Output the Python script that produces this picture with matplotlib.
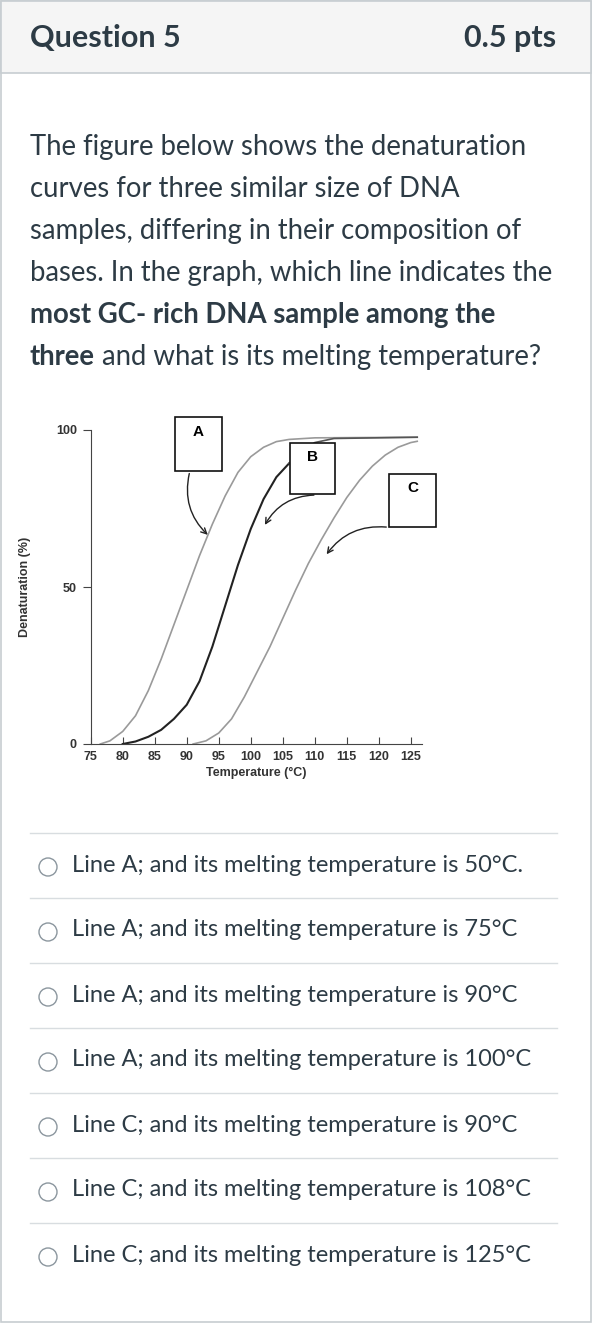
import matplotlib
matplotlib.use('Agg')
import matplotlib.pyplot as plt
from matplotlib.patches import Rectangle, Circle

# curves (temperature, % denaturation)
temp_a = [76.5, 78, 80, 82, 84, 86, 88, 90, 92, 94, 96, 98, 100, 102, 104, 106, 110, 126]
den_a = [0, 1, 4, 9, 17, 27, 38, 49, 60, 70, 79, 86.5, 91.5, 94.5, 96.3, 97, 97.5, 97.7]
temp_b = [80, 82, 84, 86, 88, 90, 92, 94, 96, 98, 100, 102, 104, 106]
den_b = [0, 0.8, 2.3, 4.5, 8, 12.5, 20, 31, 44, 57, 68.5, 78, 85, 89.4]
temp_b_top = [106, 108, 110, 113, 126]
den_b_top = [89.4, 93.5, 96, 97.3, 97.7]
temp_c = [91, 93, 95, 97, 99, 101, 103, 105, 107, 109, 111, 113, 115, 117, 119, 121, 123, 125, 126]
den_c = [0, 1, 3.5, 8, 15, 23, 31, 40, 49, 57.5, 65, 72, 78.5, 84, 88.5, 92, 94.5, 96, 96.4]
x_ticks = [75, 80, 85, 90, 95, 100, 105, 110, 115, 120, 125]
y_ticks = [0, 50, 100]

options = [
    'Line A; and its melting temperature is 50°C.',
    'Line A; and its melting temperature is 75°C',
    'Line A; and its melting temperature is 90°C',
    'Line A; and its melting temperature is 100°C',
    'Line C; and its melting temperature is 90°C',
    'Line C; and its melting temperature is 108°C',
    'Line C; and its melting temperature is 125°C',
]

W, H = 610, 1324
fig = plt.figure(figsize=(W / 100, H / 100), dpi=100)
page = fig.add_axes([0, 0, 1, 1])
page.set_xlim(0, W)
page.set_ylim(H, 0)
page.axis('off')

txt = '#2d3b45'
font = 'Lato'

# card border and header
page.add_patch(Rectangle((1, 1), 590, 1321, fill=False, ec='#c7cdd1', lw=1.2))
page.add_patch(Rectangle((1, 1), 590, 72, fc='#f5f5f5', ec='#c7cdd1', lw=1.2))
page.text(30, 38, 'Question 5', fontsize=22, fontweight='bold', family=font, color=txt, va='center')
page.text(556, 38, '0.5 pts', fontsize=22, fontweight='bold', family=font, color=txt, va='center', ha='right')

# question text (with bold parts)
lines = [
    [('The figure below shows the denaturation', 'normal')],
    [('curves for three similar size of DNA', 'normal')],
    [('samples, differing in their composition of', 'normal')],
    [('bases. In the graph, which line indicates the', 'normal')],
    [('most GC- rich DNA sample among the', 'bold')],
    [('three', 'bold'), (' and what is its melting temperature?', 'normal')],
]
fig.canvas.draw()
renderer = fig.canvas.get_renderer()
inv = page.transData.inverted()
for i, parts in enumerate(lines):
    x = 30
    y = 147 + i * 42
    for s, w in parts:
        t = page.text(x, y, s, fontsize=19.8, fontweight=w, family=font, color=txt, va='center')
        bb = t.get_window_extent(renderer)
        x = inv.transform((bb.x1, bb.y0))[0]

# answers
for i, s in enumerate(options):
    y = 865 + i * 65
    page.plot([30, 557], [y - 32, y - 32], color='#d8dde0', lw=1)
    page.add_patch(Circle((48, y + 2), 9, fill=False, ec='#8b969e', lw=1))
    page.text(72, y, s, fontsize=17, family=font, color=txt, va='center')

# chart
ax = fig.add_axes([90.7 / W, 1 - 744 / H, 331 / W, 314 / H])
ax.plot(temp_a, den_a, color='#9a9a9a', lw=1.2)
ax.plot(temp_b, den_b, color='#222222', lw=1.5)
ax.plot(temp_b_top, den_b_top, color='#555555', lw=1.2)
ax.plot(temp_c, den_c, color='#9a9a9a', lw=1.2)
ax.set_xlim(75, 126.7)
ax.set_ylim(0, 100)
for sp in ['top', 'right']:
    ax.spines[sp].set_visible(False)
ax.spines['left'].set_color('#444444')
ax.spines['bottom'].set_color('#444444')
ax.set_xticks(x_ticks)
ax.set_yticks(y_ticks)
tf = dict(family='Liberation Sans', fontweight='bold', fontsize=9, color='#333333')
ax.set_xticklabels([str(v) for v in x_ticks], **tf)
ax.set_yticklabels([str(v) for v in y_ticks], **tf)
ax.tick_params(axis='x', direction='in', length=5, color='#444444', pad=5)
ax.tick_params(axis='y', direction='out', length=6, color='#444444', pad=4)
ax.set_xlabel('Temperature (°C)', family='Liberation Sans', fontweight='bold', fontsize=9, color='#333333', labelpad=3)
ax.set_ylabel('Denaturation (%)', family='Liberation Sans', fontweight='bold', fontsize=9, color='#333333', labelpad=18)

# labelled boxes with arrows
for lab, x0, x1, y0, y1, src, dst in [
    ('A', 88.2, 95.5, 87, 104, (90.5, 87), (93.6, 66)),
    ('B', 106.2, 113.2, 79.5, 96, (110.3, 79.3), (102, 69)),
    ('C', 121.6, 128.9, 69, 86, (121.6, 69), (111.6, 59.7)),
]:
    ax.add_patch(Rectangle((x0, y0), x1 - x0, y1 - y0, fc='white', ec='#111111', lw=1.2, clip_on=False, zorder=5))
    ax.text((x0 + x1) / 2, y1 - 4.5, lab, ha='center', va='center', fontsize=11, fontweight='bold',
            family='Liberation Sans', zorder=6)
    ax.annotate('', xy=dst, xytext=src, annotation_clip=False,
                arrowprops=dict(arrowstyle='->', color='#222222', lw=1,
                                connectionstyle='arc3,rad=0.3'))

fig.savefig('out.png', dpi=100)
